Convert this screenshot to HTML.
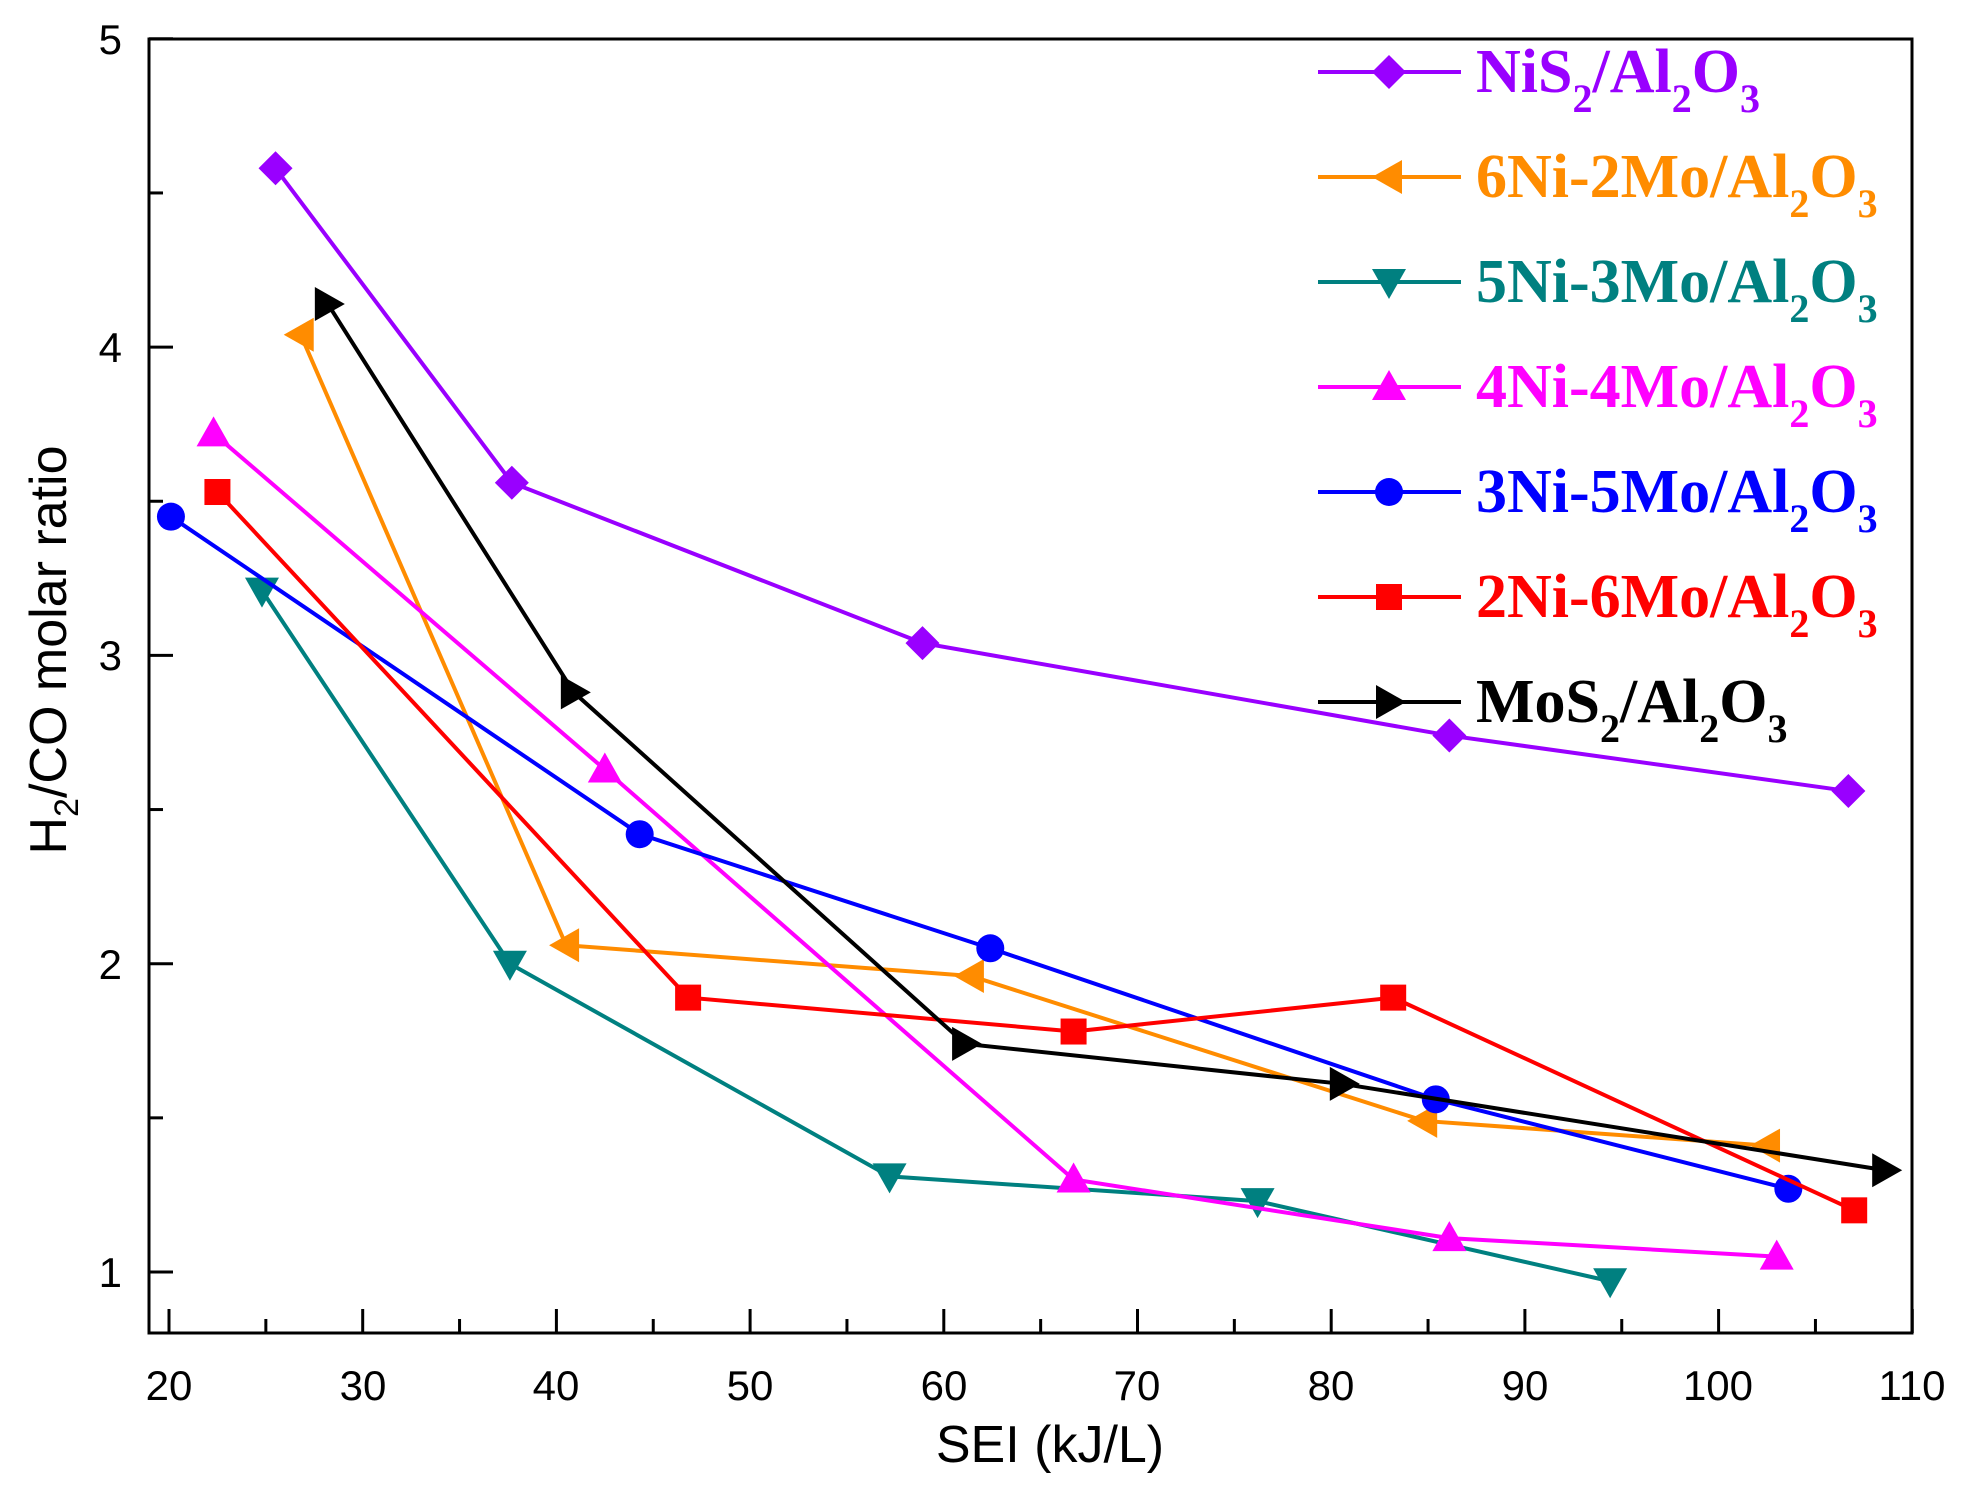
<!DOCTYPE html>
<html><head><meta charset="utf-8"><style>
html,body{margin:0;padding:0;background:#fff;}
svg{display:block;}
</style></head><body>
<svg id="s" width="1974" height="1488" xmlns="http://www.w3.org/2000/svg">
<rect width="1974" height="1488" fill="#fff"/>
<g id="plot"></g>
<rect x="149" y="39" width="1763" height="1294" fill="none" stroke="#000" stroke-width="3"/>
<g id="ticks" stroke="#000" stroke-width="3"></g>
<g font-family="Liberation Sans, sans-serif" font-size="42" fill="#000">
<text x="169" y="1400" text-anchor="middle">20</text>
<text x="363" y="1400" text-anchor="middle">30</text>
<text x="556" y="1400" text-anchor="middle">40</text>
<text x="750" y="1400" text-anchor="middle">50</text>
<text x="944" y="1400" text-anchor="middle">60</text>
<text x="1137" y="1400" text-anchor="middle">70</text>
<text x="1331" y="1400" text-anchor="middle">80</text>
<text x="1525" y="1400" text-anchor="middle">90</text>
<text x="1718" y="1400" text-anchor="middle">100</text>
<text x="1912" y="1400" text-anchor="middle">110</text>
<text x="122" y="1287" text-anchor="end">1</text>
<text x="122" y="979" text-anchor="end">2</text>
<text x="122" y="670" text-anchor="end">3</text>
<text x="122" y="362" text-anchor="end">4</text>
<text x="122" y="54" text-anchor="end">5</text>
<text x="1050" y="1462" text-anchor="middle" font-size="52">SEI (kJ/L)</text>
<text transform="translate(66,650) rotate(-90)" text-anchor="middle" font-size="52">H<tspan font-size="34" dy="12">2</tspan><tspan dy="-12">/CO molar ratio</tspan></text>
</g>
<g id="legend" font-family="Liberation Serif, serif" font-weight="bold" font-size="62">
<text x="1476" y="92" fill="#9900ff">NiS<tspan font-size="40" dy="20">2</tspan><tspan dy="-20">/Al</tspan><tspan font-size="40" dy="20">2</tspan><tspan dy="-20">O</tspan><tspan font-size="40" dy="20">3</tspan></text>
<text x="1476" y="197" fill="#ff8c00">6Ni-2Mo/Al<tspan font-size="40" dy="20">2</tspan><tspan dy="-20">O</tspan><tspan font-size="40" dy="20">3</tspan></text>
<text x="1476" y="302" fill="#008080">5Ni-3Mo/Al<tspan font-size="40" dy="20">2</tspan><tspan dy="-20">O</tspan><tspan font-size="40" dy="20">3</tspan></text>
<text x="1476" y="407" fill="#ff00ff">4Ni-4Mo/Al<tspan font-size="40" dy="20">2</tspan><tspan dy="-20">O</tspan><tspan font-size="40" dy="20">3</tspan></text>
<text x="1476" y="512" fill="#0000ff">3Ni-5Mo/Al<tspan font-size="40" dy="20">2</tspan><tspan dy="-20">O</tspan><tspan font-size="40" dy="20">3</tspan></text>
<text x="1476" y="617" fill="#ff0000">2Ni-6Mo/Al<tspan font-size="40" dy="20">2</tspan><tspan dy="-20">O</tspan><tspan font-size="40" dy="20">3</tspan></text>
<text x="1476" y="722" fill="#000">MoS<tspan font-size="40" dy="20">2</tspan><tspan dy="-20">/Al</tspan><tspan font-size="40" dy="20">2</tspan><tspan dy="-20">O</tspan><tspan font-size="40" dy="20">3</tspan></text>
</g>
</svg>
<script>
var NS="http://www.w3.org/2000/svg";
function X(v){return 169+(v-20)*19.37;}
function Y(v){return 1272-(v-1)*308.3;}
var series=[
["#9900ff","diamond",[[25.5,4.58],[37.7,3.56],[58.9,3.04],[86.1,2.74],[106.7,2.56]]],
["#ff8c00","left",[[26.8,4.04],[40.5,2.06],[61.4,1.96],[84.8,1.49],[102.5,1.41]]],
["#008080","down",[[24.8,3.21],[37.6,2.0],[57.2,1.31],[76.2,1.23],[94.4,0.97]]],
["#ff00ff","up",[[22.3,3.72],[42.5,2.63],[66.7,1.30],[86.1,1.11],[103.0,1.05]]],
["#0000ff","circle",[[20.1,3.45],[44.3,2.42],[62.4,2.05],[85.4,1.56],[103.6,1.27]]],
["#ff0000","square",[[22.5,3.53],[46.8,1.89],[66.7,1.78],[83.2,1.89],[107.0,1.20]]],
["#000000","right",[[28.2,4.14],[40.9,2.88],[61.1,1.74],[80.6,1.61],[108.6,1.33]]]
];
function el(n,a,p){var e=document.createElementNS(NS,n);for(var k in a)e.setAttribute(k,a[k]);p.appendChild(e);return e;}
function marker(t,x,y,c,p){var pts;
 if(t=="circle"){el("circle",{cx:x,cy:y,r:14,fill:c},p);return;}
 if(t=="square"){el("rect",{x:x-13,y:y-13,width:26,height:26,fill:c},p);return;}
 if(t=="diamond")pts=[[x,y-17],[x+17,y],[x,y+17],[x-17,y]];
 if(t=="up")pts=[[x,y-17],[x+17,y+13],[x-17,y+13]];
 if(t=="down")pts=[[x,y+17],[x+17,y-13],[x-17,y-13]];
 if(t=="left")pts=[[x-17,y],[x+13,y-17],[x+13,y+17]];
 if(t=="right")pts=[[x+17,y],[x-13,y-17],[x-13,y+17]];
 el("polygon",{points:pts.map(function(q){return q.join(",")}).join(" "),fill:c},p);}
var g=document.getElementById("plot");
series.forEach(function(s,i){
 var d=s[2].map(function(q){return X(q[0])+","+Y(q[1])}).join(" ");
 el("polyline",{points:d,fill:"none",stroke:s[0],"stroke-width":4},g);
 s[2].forEach(function(q){marker(s[1],X(q[0]),Y(q[1]),s[0],g);});
 var ly=72+i*105;
 el("line",{x1:1318,y1:ly,x2:1461,y2:ly,stroke:s[0],"stroke-width":4},g);
 marker(s[1],1389,ly,s[0],g);
});
var t=document.getElementById("ticks");
for(var v=20;v<=110;v+=5){var x=X(v);var L=(v%10==0)?24:14;el("line",{x1:x,y1:1333,x2:x,y2:1333-L},t);}
for(var v=1;v<=5;v+=0.5){var y=Y(v);var L=(v%1==0)?24:14;el("line",{x1:149,y1:y,x2:149+L,y2:y},t);}
</script>
</body></html>
